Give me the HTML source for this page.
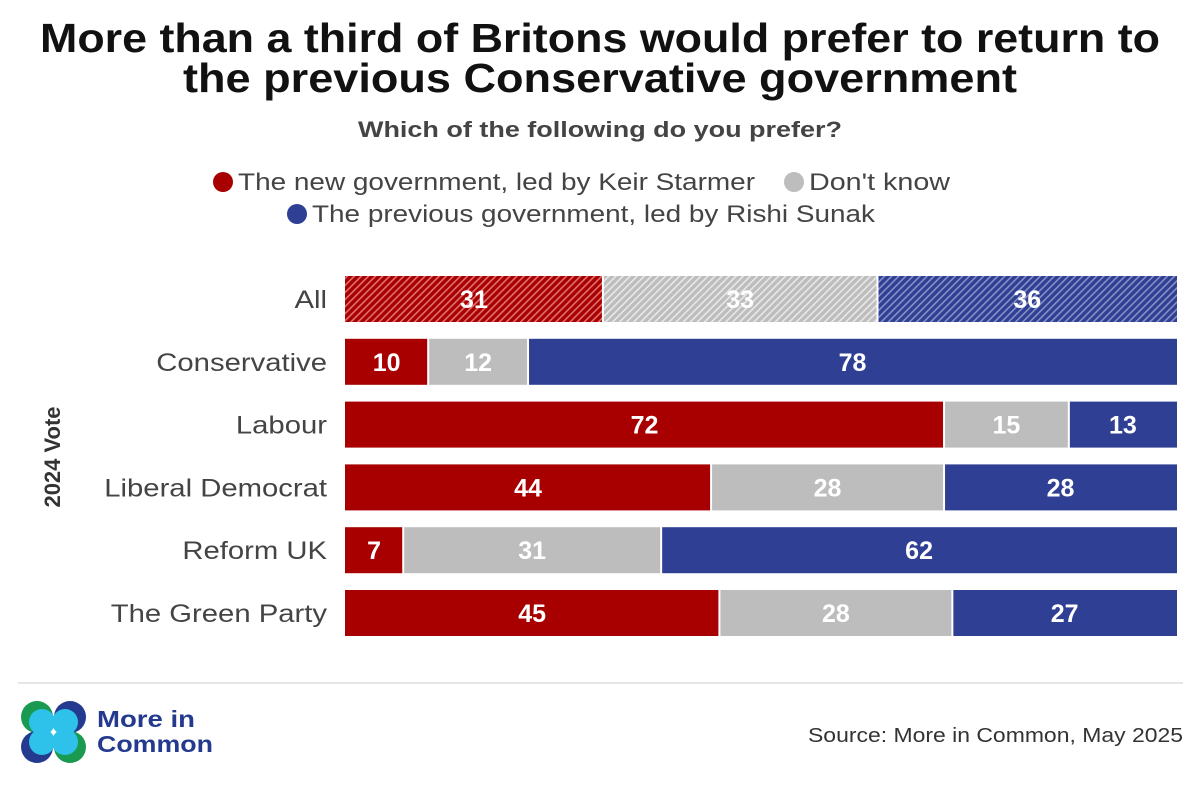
<!DOCTYPE html>
<html><head><meta charset="utf-8"><style>
body{margin:0;background:#fff;font-family:"Liberation Sans",sans-serif;}
svg{display:block}
</style></head><body>
<svg width="1200" height="785" viewBox="0 0 1200 785">
<defs>
<pattern id="hr" patternUnits="userSpaceOnUse" width="5" height="5" patternTransform="rotate(45)"><rect width="5" height="5" fill="#a80000"/><rect width="1.6" height="5" fill="#e07070"/></pattern>
<pattern id="hg" patternUnits="userSpaceOnUse" width="5" height="5" patternTransform="rotate(45)"><rect width="5" height="5" fill="#bdbdbd"/><rect width="1.6" height="5" fill="#e8e8e8"/></pattern>
<pattern id="hb" patternUnits="userSpaceOnUse" width="5" height="5" patternTransform="rotate(45)"><rect width="5" height="5" fill="#2f3f94"/><rect width="1.6" height="5" fill="#8690c4"/></pattern>
</defs>
<text x="40" y="52" textLength="1120" lengthAdjust="spacingAndGlyphs" font-size="41" font-weight="bold" fill="#111">More than a third of Britons would prefer to return to</text>
<text x="183" y="92" textLength="834" lengthAdjust="spacingAndGlyphs" font-size="41" font-weight="bold" fill="#111">the previous Conservative government</text>
<text x="358" y="137" textLength="484" lengthAdjust="spacingAndGlyphs" font-size="22" font-weight="bold" fill="#444">Which of the following do you prefer?</text>
<g font-size="24" fill="#444">
<circle cx="223" cy="182" r="10" fill="#a80000"/><text x="238" y="190" textLength="517" lengthAdjust="spacingAndGlyphs">The new government, led by Keir Starmer</text>
<circle cx="794" cy="182" r="10" fill="#bdbdbd"/><text x="809" y="190" textLength="141" lengthAdjust="spacingAndGlyphs">Don't know</text>
<circle cx="297" cy="214" r="10" fill="#2f3f94"/><text x="312" y="222" textLength="563" lengthAdjust="spacingAndGlyphs">The previous government, led by Rishi Sunak</text>
</g>
<text transform="translate(60,457) rotate(-90)" text-anchor="middle" font-size="22" font-weight="bold" fill="#333">2024 Vote</text>
<g id="bars"></g>
<line x1="18" y1="683" x2="1183" y2="683" stroke="#ddd" stroke-width="1.5"/>
<g>
<circle cx="37" cy="717" r="16" fill="#1a9a50"/><circle cx="70" cy="717" r="16" fill="#243a8f"/>
<circle cx="37" cy="747" r="16" fill="#243a8f"/><circle cx="70" cy="747" r="16" fill="#1a9a50"/>
<circle cx="42" cy="722" r="13" fill="#2ec1ea"/><circle cx="65" cy="722" r="13" fill="#2ec1ea"/>
<circle cx="42" cy="742" r="13" fill="#2ec1ea"/><circle cx="65" cy="742" r="13" fill="#2ec1ea"/>
<text x="97" y="727" font-size="23" font-weight="bold" fill="#243a8f" textLength="98" lengthAdjust="spacingAndGlyphs">More in</text>
<text x="97" y="752" font-size="23" font-weight="bold" fill="#243a8f" textLength="116" lengthAdjust="spacingAndGlyphs">Common</text>
</g>
<text x="808" y="742" textLength="375" lengthAdjust="spacingAndGlyphs" font-size="20" fill="#333">Source: More in Common, May 2025</text>
</svg>
<script>
const categories=["All","Conservative","Labour","Liberal Democrat","Reform UK","The Green Party"];
const starmer=[31,10,72,44,7,45];
const dontKnow=[33,12,15,28,31,28];
const sunak=[36,78,13,28,62,27];
const NS="http://www.w3.org/2000/svg";
const g=document.getElementById('bars');
const x0=345,W=832;
const xs=v=>v/100*W;
const yc=i=>299+i*62.8;
const fills=[["#a80000","url(#hr)"],["#bdbdbd","url(#hg)"],["#2f3f94","url(#hb)"]];
const names=["starmer","dont-know","sunak"];
function mk(t,a){const e=document.createElementNS(NS,t);for(const k in a)e.setAttribute(k,a[k]);return e;}
categories.forEach((c,i)=>{
  const lab=mk('text',{x:327,y:yc(i)+9,'text-anchor':'end','font-size':25,fill:'#444'});
  lab.textContent=c;
  
  
  g.appendChild(lab);
  const L=lab.getComputedTextLength()*1.17;
  lab.setAttribute('x',327-L);
  lab.setAttribute('text-anchor','start');
  lab.setAttribute('textLength',L);
  lab.setAttribute('lengthAdjust','spacingAndGlyphs');
  const vals=[starmer[i],dontKnow[i],sunak[i]];
  const tot=vals[0]+vals[1]+vals[2];
  let acc=0;
  vals.forEach((v,j)=>{
    const x=x0+xs(acc/tot*100),w=xs(v/tot*100);
    const r=mk('rect',{x:x+(j?1:0),y:yc(i)-23,width:w-(j?1:0)-(j<2?1:0),height:46,fill:fills[j][i==0?1:0]});
    
    
    g.appendChild(r);
    const t=mk('text',{x:x+w/2,y:yc(i)+9,'text-anchor':'middle','font-size':25,'font-weight':'bold',fill:'#fff'});
    t.textContent=v;
    
    
    g.appendChild(t);
    acc+=v;
  });
});
</script>
</body></html>
